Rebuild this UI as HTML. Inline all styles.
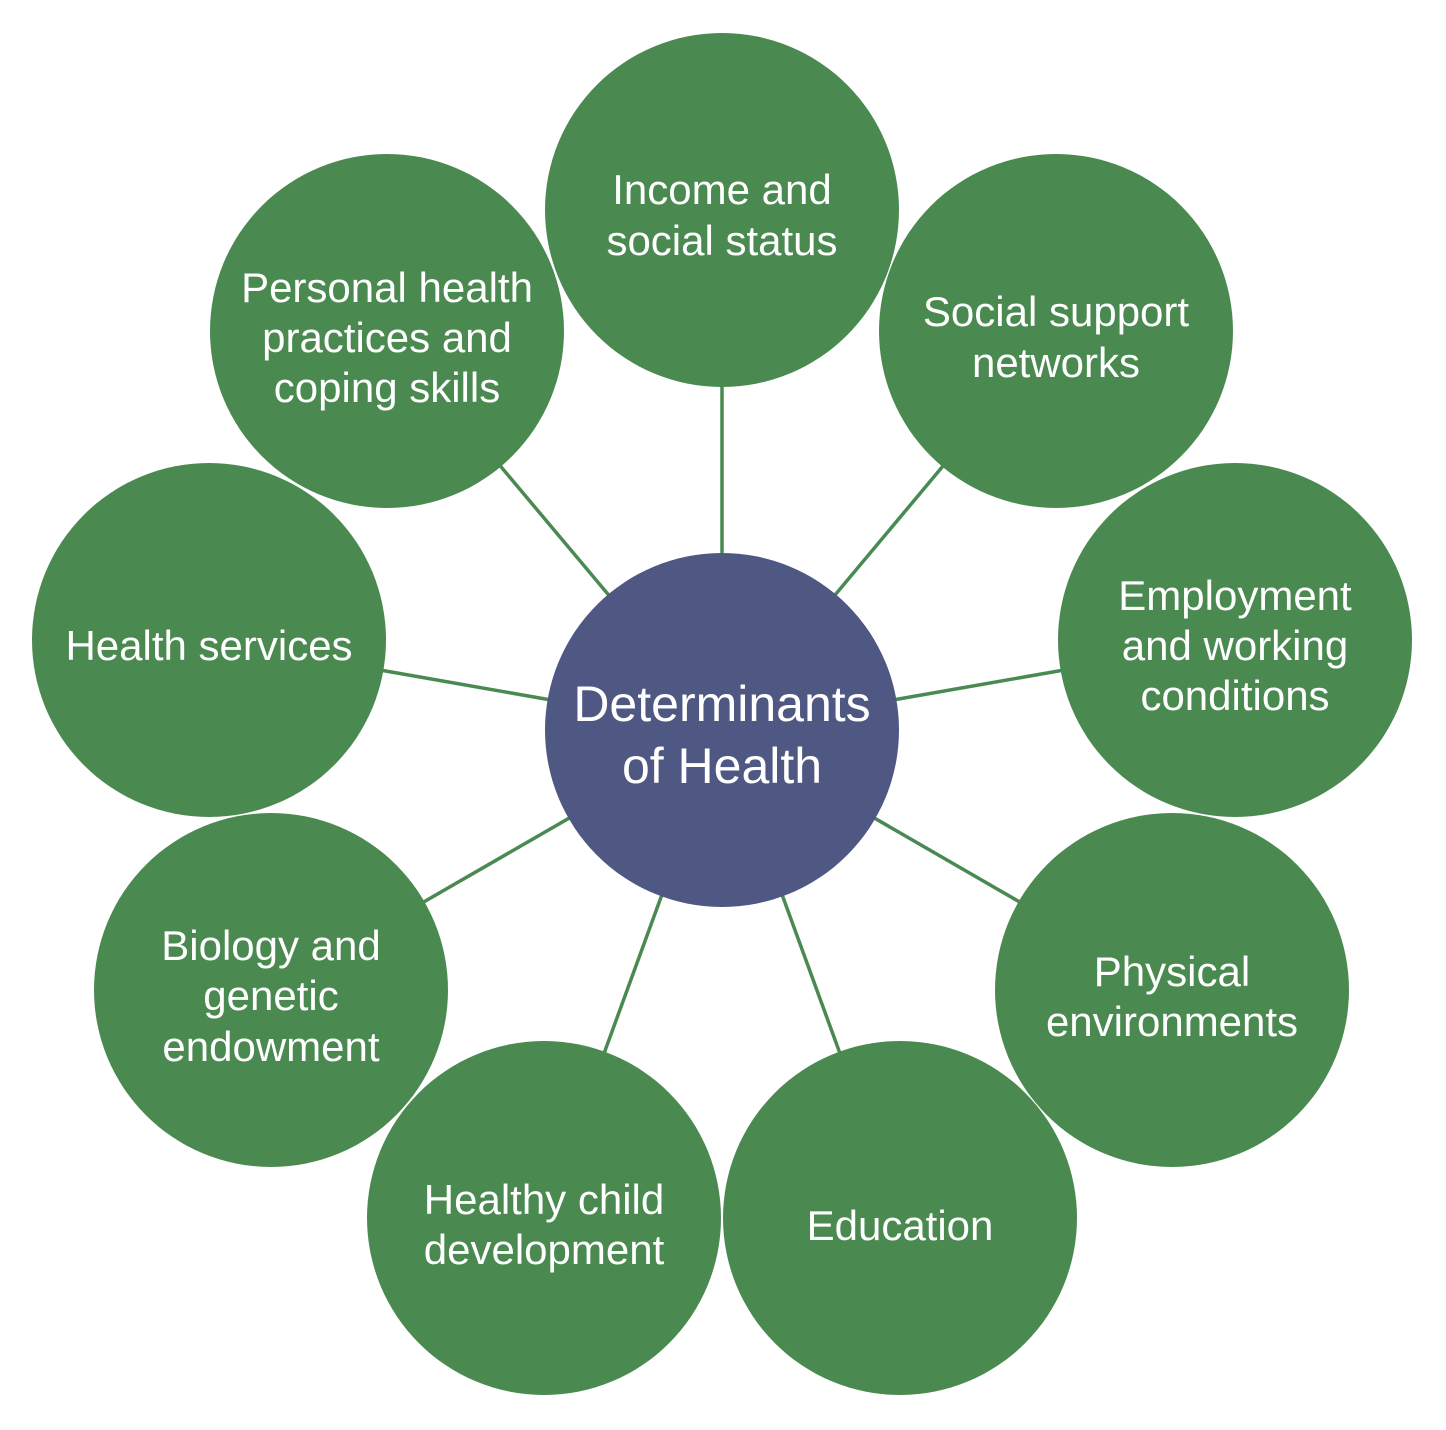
<!DOCTYPE html>
<html><head><meta charset="utf-8"><style>
html,body{margin:0;padding:0;background:#fff;}
svg{display:block;}
text{font-family:"Liberation Sans",sans-serif;fill:#fff;text-anchor:middle;}
</style></head><body>
<svg width="1446" height="1430" viewBox="0 0 1446 1430" xmlns="http://www.w3.org/2000/svg">
<g stroke="#4a8a52" stroke-width="3.5">
<line x1="722" y1="730" x2="722" y2="210"/>
<line x1="722" y1="730" x2="1056" y2="331"/>
<line x1="722" y1="730" x2="1235" y2="640"/>
<line x1="722" y1="730" x2="1172" y2="990"/>
<line x1="722" y1="730" x2="900" y2="1218"/>
<line x1="722" y1="730" x2="544" y2="1218"/>
<line x1="722" y1="730" x2="271" y2="990"/>
<line x1="722" y1="730" x2="209" y2="640"/>
<line x1="722" y1="730" x2="387" y2="331"/>
</g>
<g fill="#4a8a50">
<circle cx="722" cy="210" r="177"/>
<circle cx="1056" cy="331" r="177"/>
<circle cx="1235" cy="640" r="177"/>
<circle cx="1172" cy="990" r="177"/>
<circle cx="900" cy="1218" r="177"/>
<circle cx="544" cy="1218" r="177"/>
<circle cx="271" cy="990" r="177"/>
<circle cx="209" cy="640" r="177"/>
<circle cx="387" cy="331" r="177"/>
</g>
<circle cx="722" cy="730" r="177" fill="#4f5783"/>
<g font-size="42">
<text x="722" y="204">Income and</text><text x="722" y="255">social status</text>
<text x="1056" y="326">Social support</text><text x="1056" y="377">networks</text>
<text x="1235" y="610">Employment</text><text x="1235" y="660">and working</text><text x="1235" y="710">conditions</text>
<text x="1172" y="986">Physical</text><text x="1172" y="1036">environments</text>
<text x="900" y="1240">Education</text>
<text x="544" y="1214">Healthy child</text><text x="544" y="1264">development</text>
<text x="271" y="960">Biology and</text><text x="271" y="1010">genetic</text><text x="271" y="1061">endowment</text>
<text x="209" y="660">Health services</text>
<text x="387" y="302">Personal health</text><text x="387" y="352">practices and</text><text x="387" y="402">coping skills</text>
</g>
<g font-size="50">
<text x="722" y="721">Determinants</text><text x="722" y="783">of Health</text>
</g>
</svg>
</body></html>
